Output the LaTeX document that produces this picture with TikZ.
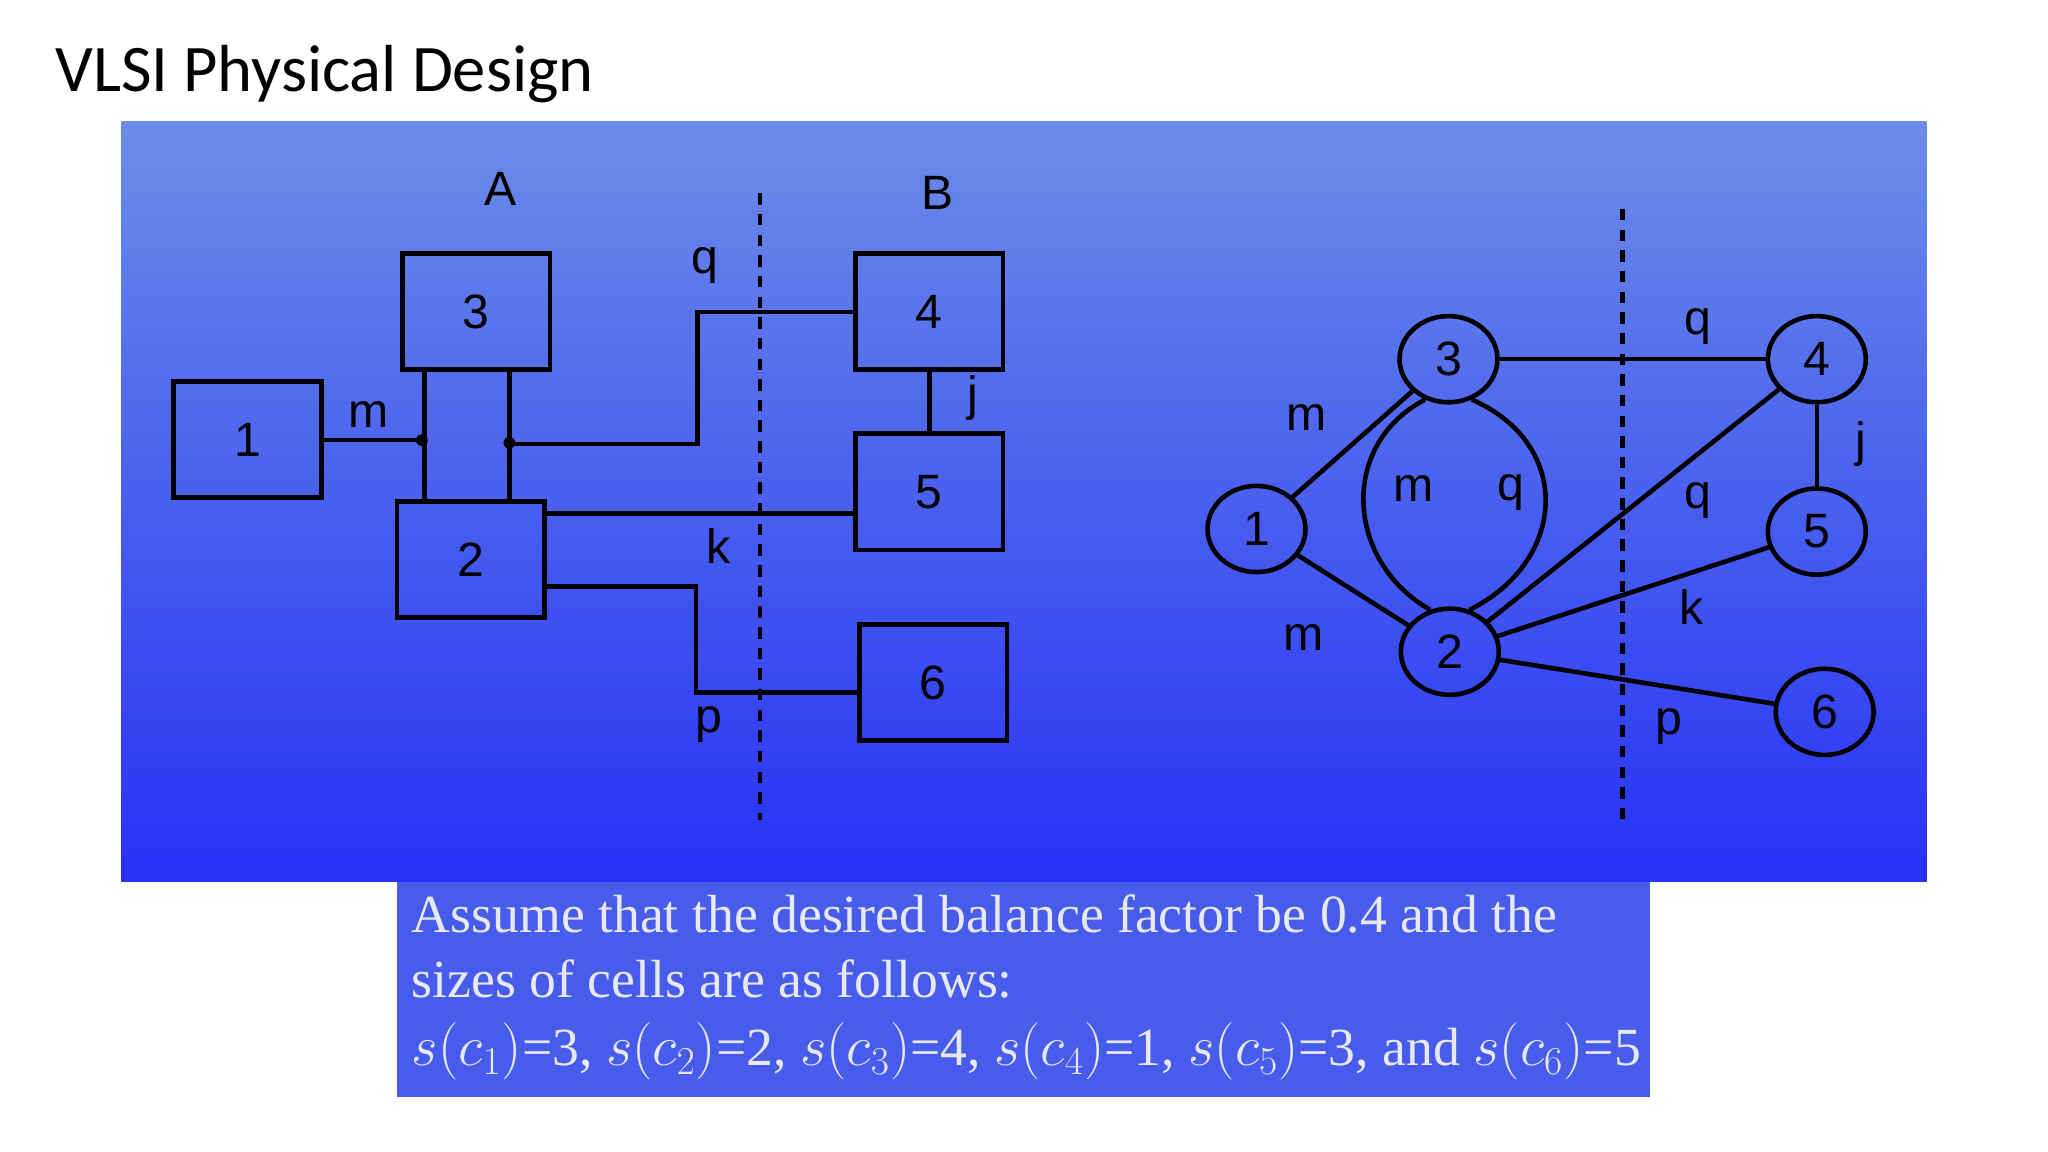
\documentclass[tikz,border=0pt]{standalone}
\usepackage{fontspec}
\setmainfont{Liberation Serif}
\newfontfamily\titlefont{Carlito}
\newfontfamily\lab{Liberation Sans}
\usetikzlibrary{shapes.geometric}
\definecolor{ptop}{RGB}{108,140,232}
\definecolor{pbot}{RGB}{38,50,246}
\definecolor{tbox}{RGB}{72,92,236}
\definecolor{ttext}{RGB}{232,232,242}
\tikzset{
  wire/.style={line width=2pt,black},
  cell/.style={draw,line width=2pt,minimum width=2.26cm,minimum height=1.78cm,inner sep=0pt,font=\lab\fontsize{21}{24}\selectfont},
  vert/.style={draw,ellipse,line width=2pt,minimum width=1.5cm,minimum height=1.32cm,inner sep=0pt,font=\lab\fontsize{21}{24}\selectfont},
  lbl/.style={font=\lab\fontsize{21}{24}\selectfont,inner sep=0pt},
  cut/.style={line width=2pt,dash pattern=on 5pt off 4pt},
}
\begin{document}
\begin{tikzpicture}[x=0.02cm,y=-0.02cm]
\useasboundingbox (0,0) rectangle (1568,882);
\fill[white] (0,0) rectangle (1568,882);
\node[anchor=base west,inner sep=0pt,font=\titlefont\fontsize{29}{34}\selectfont] (title) at (42,70) {VLSI Physical Design};
\shade[top color=ptop,bottom color=pbot] (93,93) rectangle (1475,675);
\fill[tbox] (304,675) rectangle (1263,840);
\begin{scope}
\clip (304,675) rectangle (1263,840);
\node[anchor=base west,inner sep=0pt,text=ttext,font=\fontsize{23.4}{28}\selectfont] (txt1) at (315,714) {Assume that the desired balance factor be 0.4 and the};
\node[anchor=base west,inner sep=0pt,text=ttext,font=\fontsize{23.4}{28}\selectfont] (txt2) at (315,764) {sizes of cells are as follows:};
\node[anchor=base west,inner sep=0pt,text=ttext,font=\fontsize{23.4}{28}\selectfont] (txt3) at (315,816) {$s(c_1)$=3, $s(c_2)$=2, $s(c_3)$=4, $s(c_4)$=1, $s(c_5)$=3, and $s(c_6)$=5};
\end{scope}
% left
\node[cell] (b1) at (189.5,336.5) {1};
\node[cell] (b3) at (364.5,238.5) {3};
\node[cell] (b2) at (360.5,428.5) {2};
\node[cell] (b4) at (711.5,238.5) {4};
\node[cell] (b5) at (711.5,376.5) {5};
\node[cell] (b6) at (714.5,522.5) {6};
\coordinate (ct) at (582,148);
\coordinate (cb) at (582,628);
\draw[cut] (ct) -- (cb);
\draw[wire] (325,283) -- (325,384);
\draw[wire] (390,283) -- (390,384);
\draw[wire] (b1.east |- 0,337) -- (325,337);
\fill (323,337) circle (4.5);
\fill (390,339) circle (4.5);
\draw[wire] (390,340) -- (534,340) -- (534,239) -- (b4.west |- 0,239);
\draw[wire] (b2.east |- 0,393) -- (b5.west |- 0,393);
\draw[wire] (b2.east |- 0,449) -- (533,449) -- (533,530) -- (b6.west |- 0,530);
\draw[wire] (b4) -- (b5);
\node[lbl] (lA) at (383,145) {A};
\node[lbl] (lB) at (718,148) {B};
\node[lbl] (lq) at (540,203) {q};
\node[lbl] (lm) at (282,317) {m};
\node[lbl] (lj) at (745,305) {j};
\node[lbl] (lk) at (550,418) {k};
\node[lbl] (lp) at (543,555) {p};
% right
\node[vert] (v3) at (1109,275) {3};
\node[vert] (v4) at (1391,275) {4};
\node[vert] (v1) at (962,405) {1};
\node[vert] (v5) at (1391,407) {5};
\node[vert] (v2) at (1110,499) {2};
\node[vert] (v6) at (1397,545) {6};
\coordinate (dt) at (1242,160);
\coordinate (db) at (1242,628);
\draw[cut] (dt) -- (db);
\draw[wire] (v3) -- (v4);
\draw[wire] (v4) -- (v5);
\draw[wire] (v1) -- (v3);
\draw[wire] (v1) -- (v2);
\draw[wire] (v2) -- (v4);
\draw[wire] (v2) -- (v5);
\draw[wire] (v2) -- (v6);
\draw[wire] (v3.-120) .. controls (1025,340) and (1030,430) .. (v2.115);
\draw[wire] (v3.-60) .. controls (1205,340) and (1200,430) .. (v2.65);
\node[lbl] (rq1) at (1300,250) {q};
\node[lbl] (rj) at (1425,340) {j};
\node[lbl] (rm1) at (1000,320) {m};
\node[lbl] (rm2) at (1082,374) {m};
\node[lbl] (rq2) at (1157,377) {q};
\node[lbl] (rq3) at (1300,383) {q};
\node[lbl] (rk) at (1295,465) {k};
\node[lbl] (rm3) at (998,488) {m};
\node[lbl] (rp) at (1278,556) {p};
\end{tikzpicture}
\end{document}
